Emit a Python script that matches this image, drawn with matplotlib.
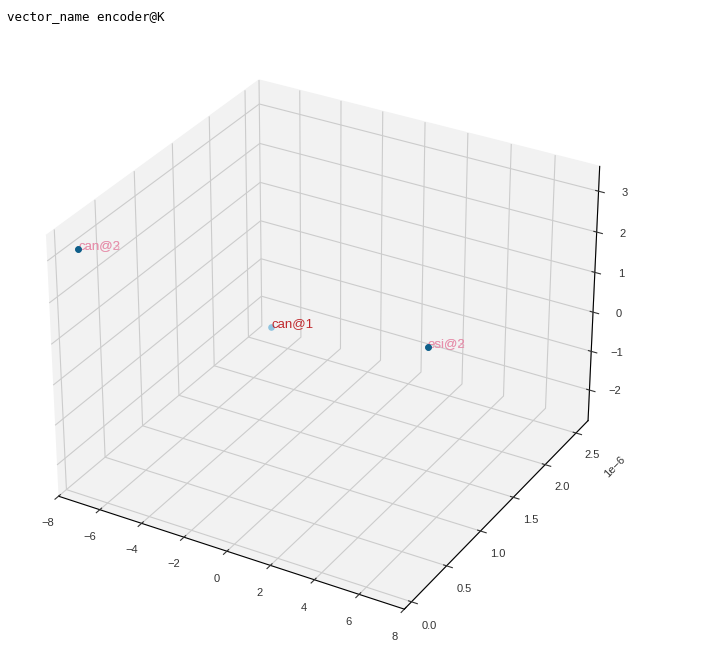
import numpy as np
import matplotlib.pyplot as plt

plt.rcParams['font.family'] = ['Liberation Sans', 'DejaVu Sans']

labels = ['can@1', 'can@2', 'can@3', 'esi@2', 'esi@3']
xs = [-7.0, -7.1, -7.1, 8.0, 8.0]
ys = [2.55e-6, 0.05e-6, 0.05e-6, 0.17e-6, 0.17e-6]
zs = [-2.45, 3.2, 3.2, 3.0, 3.0]
point_colors = ['#8fc4e0', '#0f5f8a', '#0f5f8a', '#0f5f8a', '#0f5f8a']
text_colors = ['#c0282d', '#e07a9a', '#e88aa8', '#e07a9a', '#e88aa8']
alphas = [1.0, 0.7, 0.7, 0.7, 0.7]

fig = plt.figure(figsize=(7.03, 6.48), dpi=100)
fig.text(0.01, 0.985, 'vector_name encoder@K', family='monospace', fontsize=9, va='top')
ax = fig.add_axes([-0.02, 0.0, 0.95, 0.95], projection='3d')

for x, y, z, lab, pc, tc, a in zip(xs, ys, zs, labels, point_colors, text_colors, alphas):
    ax.scatter([x], [y], [z], color=pc, s=14, depthshade=False)
    ax.text(x, y, z, lab, color=tc, alpha=a, fontsize=9.5)

for axis in (ax.xaxis, ax.yaxis, ax.zaxis):
    axis.set_pane_color((0.95, 0.95, 0.95, 1.0))
    axis._axinfo['grid']['color'] = (0.8, 0.8, 0.8, 1)
    axis.set_tick_params(labelsize=8, colors='#333333')

ax.set_xlim(-8, 8)
ax.set_ylim(-0.1e-6, 2.7e-6)
ax.set_zlim(-2.8, 3.6)
ax.set_xticks([-8, -6, -4, -2, 0, 2, 4, 6, 8])
ax.set_yticks([0, 0.5e-6, 1.0e-6, 1.5e-6, 2.0e-6, 2.5e-6])
ax.set_zticks([-2, -1, 0, 1, 2, 3])
ax.yaxis.get_offset_text().set_fontsize(8)

fig.savefig('out.png')
